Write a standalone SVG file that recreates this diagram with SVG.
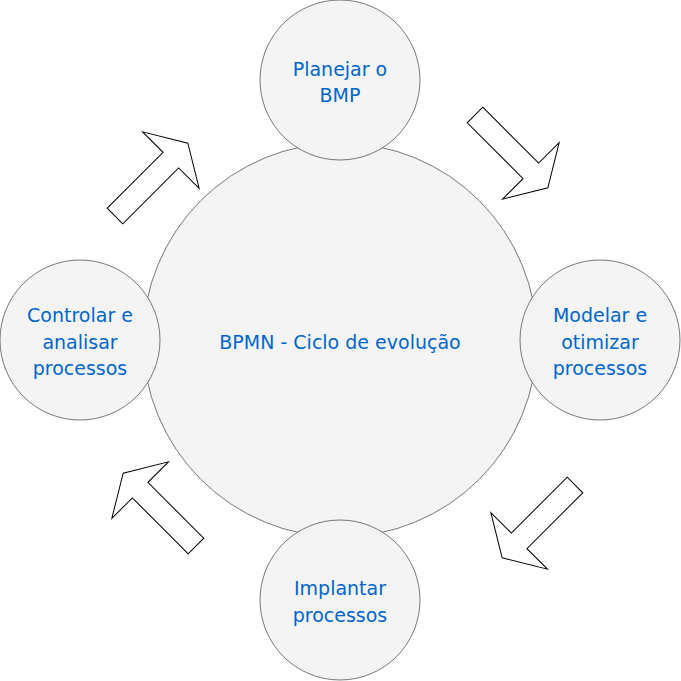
<svg xmlns="http://www.w3.org/2000/svg" width="681" height="681" viewBox="0 0 681 681">
<style>
.c{fill:#f4f4f4;stroke:#555;stroke-width:0.8}
.t{font-family:"DejaVu Sans",Verdana,sans-serif;font-size:19px;fill:#0066cc;text-anchor:middle}
.a{fill:#fff;stroke:#000;stroke-width:1}
</style>
<defs><polygon id="arr" points="0,-11 79,-11 79,-40 103,0 79,40 79,11 0,11"/></defs>
<rect width="681" height="681" fill="#fff"/>
<g id="connectors">
<use href="#arr" class="a" transform="translate(475,115) rotate(45)"/>
<use href="#arr" class="a" transform="translate(575,485) rotate(135)"/>
<use href="#arr" class="a" transform="translate(196,546) rotate(-135)"/>
<use href="#arr" class="a" transform="translate(115,216) rotate(-45)"/>
</g>
<g id="center"><circle class="c" cx="340" cy="340" r="197"/><text class="t" x="340" y="349">BPMN - Ciclo de evolução</text></g>
<g id="top"><circle class="c" cx="340" cy="80" r="80"/><text class="t" x="340" y="76">Planejar o</text><text class="t" x="340" y="102">BMP</text></g>
<g id="right"><circle class="c" cx="600" cy="340" r="80"/><text class="t" x="600" y="322">Modelar e</text><text class="t" x="600" y="349">otimizar</text><text class="t" x="600" y="375">processos</text></g>
<g id="bottom"><circle class="c" cx="340" cy="600" r="80"/><text class="t" x="340" y="595">Implantar</text><text class="t" x="340" y="622">processos</text></g>
<g id="left"><circle class="c" cx="80" cy="340" r="80"/><text class="t" x="80" y="322">Controlar e</text><text class="t" x="80" y="349">analisar</text><text class="t" x="80" y="375">processos</text></g>
</svg>
